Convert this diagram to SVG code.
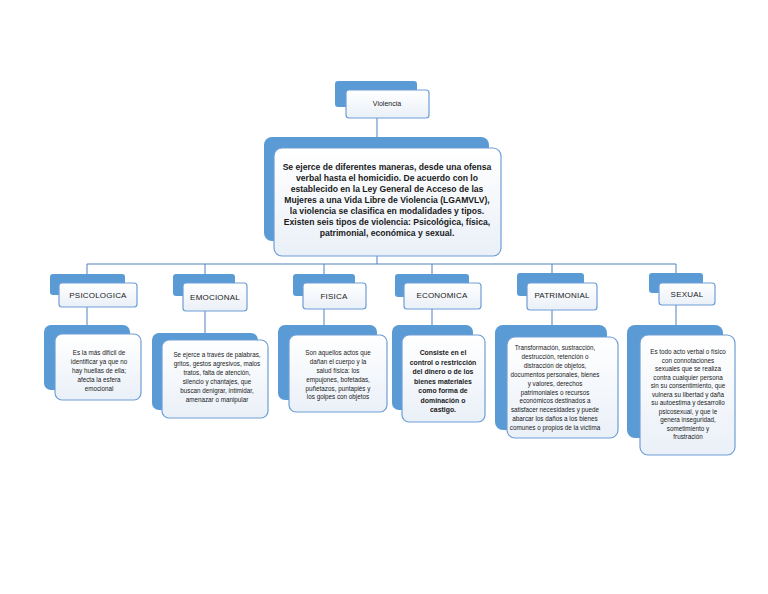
<svg xmlns="http://www.w3.org/2000/svg" width="768" height="594" viewBox="0 0 768 594">
<defs>
<linearGradient id="fg" x1="0" y1="0" x2="0" y2="1">
<stop offset="0" stop-color="#FFFFFF"/>
<stop offset="1" stop-color="#EAF0F8"/>
</linearGradient>
</defs>
<style>
.back{fill:#5B9BD5;}
.front{fill:url(#fg);stroke:#6E9ED6;stroke-width:1.2;}
.conn{stroke:#4F81BD;stroke-width:1;fill:none;}
text{font-family:"Liberation Sans",Arial,sans-serif;fill:#1a1a1a;text-anchor:middle;}
.cat{font-size:8px;letter-spacing:0.2px;}
.main{font-size:8.6px;font-weight:bold;}
.desc{font-size:6.3px;}
.descb{font-size:6.9px;font-weight:bold;}
</style>
<rect width="768" height="594" fill="#FFFFFF"/>
<g id="connectors">
<path class="conn" d="M377 118 V138"/>
<path class="conn" d="M377 256 V264"/>
<path class="conn" d="M87 264 H676"/>
<path class="conn" d="M87 264 V274 M205 264 V274 M324 264 V274 M432 264 V274 M552 264 V273 M676 264 V273"/>
<path class="conn" d="M87 307 V325 M205 311 V333 M324 309 V325 M432 309 V325 M552 310 V325 M676 305 V325"/>
</g>
<g id="violencia">
<rect class="back" x="335" y="81" width="82" height="26" rx="3"/>
<rect class="front" x="346" y="90" width="83" height="28" rx="3"/>
<text x="387" y="106" style="font-size:7px">Violencia</text>
</g>
<g id="definicion">
<rect class="back" x="264" y="137" width="225" height="104" rx="8"/>
<rect class="front" x="274" y="148" width="227" height="108" rx="8"/>
<text class="main" x="387" y="170">Se ejerce de diferentes maneras, desde una ofensa</text>
<text class="main" x="387" y="181">verbal hasta el homicidio. De acuerdo con lo</text>
<text class="main" x="387" y="192">establecido en la Ley General de Acceso de las</text>
<text class="main" x="387" y="203">Mujeres a una Vida Libre de Violencia (LGAMVLV),</text>
<text class="main" x="387" y="214">la violencia se clasifica en modalidades y tipos.</text>
<text class="main" x="387" y="225">Existen seis tipos de violencia: Psicológica, física,</text>
<text class="main" x="387" y="236">patrimonial, económica y sexual.</text>
</g>
<g id="psicologica">
<rect class="back" x="50" y="274" width="75" height="21" rx="3"/>
<rect class="front" x="59" y="283" width="78" height="24" rx="3"/>
<text class="cat" x="98" y="298">PSICOLOGICA</text>
</g>
<g id="emocional">
<rect class="back" x="173" y="274" width="62" height="22" rx="3"/>
<rect class="front" x="183" y="283" width="64" height="28" rx="3"/>
<text class="cat" x="215" y="300">EMOCIONAL</text>
</g>
<g id="fisica">
<rect class="back" x="293" y="274" width="62" height="22" rx="3"/>
<rect class="front" x="303" y="283" width="63" height="26" rx="3"/>
<text class="cat" x="334" y="299">FISICA</text>
</g>
<g id="economica">
<rect class="back" x="395" y="274" width="74" height="23" rx="3"/>
<rect class="front" x="404" y="283" width="77" height="26" rx="3"/>
<text class="cat" x="442" y="298">ECONOMICA</text>
</g>
<g id="patrimonial">
<rect class="back" x="517" y="273" width="67" height="23" rx="3"/>
<rect class="front" x="527" y="283" width="70" height="27" rx="3"/>
<text class="cat" x="562" y="298">PATRIMONIAL</text>
</g>
<g id="sexual">
<rect class="back" x="649" y="273" width="54" height="20" rx="3"/>
<rect class="front" x="659" y="283" width="56" height="22" rx="3"/>
<text class="cat" x="687" y="297">SEXUAL</text>
</g>
<g id="desc-psicologica">
<rect class="back" x="44" y="325" width="86" height="65" rx="7"/>
<rect class="front" x="55" y="334" width="86" height="66" rx="7"/>
<text class="desc" x="99" y="355">Es la más difícil de</text>
<text class="desc" x="99" y="364">identificar ya que no</text>
<text class="desc" x="99" y="373">hay huellas de ella;</text>
<text class="desc" x="99" y="382">afecta la esfera</text>
<text class="desc" x="99" y="391">emocional</text>
</g>
<g id="desc-emocional">
<rect class="back" x="152" y="333" width="106" height="77" rx="7"/>
<rect class="front" x="162" y="340" width="106" height="78" rx="7"/>
<text class="desc" x="217" y="357">Se ejerce a través de palabras,</text>
<text class="desc" x="217" y="366">gritos, gestos agresivos, malos</text>
<text class="desc" x="217" y="375">tratos, falta de atención,</text>
<text class="desc" x="217" y="384">silencio y chantajes, que</text>
<text class="desc" x="217" y="393">buscan denigrar, intimidar,</text>
<text class="desc" x="217" y="402">amenazar o manipular</text>
</g>
<g id="desc-fisica">
<rect class="back" x="278" y="325" width="99" height="75" rx="7"/>
<rect class="front" x="289" y="335" width="98" height="77" rx="7"/>
<text class="desc" x="338" y="355">Son aquellos actos que</text>
<text class="desc" x="338" y="364">dañan el cuerpo y la</text>
<text class="desc" x="338" y="373">salud física: los</text>
<text class="desc" x="338" y="382">empujones, bofetadas,</text>
<text class="desc" x="338" y="391">puñetazos, puntapiés y</text>
<text class="desc" x="338" y="399">los golpes con objetos</text>
</g>
<g id="desc-economica">
<rect class="back" x="392" y="325" width="81" height="85" rx="7"/>
<rect class="front" x="402" y="335" width="83" height="87" rx="7"/>
<text class="descb" x="443" y="355">Consiste en el</text>
<text class="descb" x="443" y="364.5">control o restricción</text>
<text class="descb" x="443" y="374">del dinero o de los</text>
<text class="descb" x="443" y="383.5">bienes materiales</text>
<text class="descb" x="443" y="393">como forma de</text>
<text class="descb" x="443" y="402.5">dominación o</text>
<text class="descb" x="443" y="412">castigo.</text>
</g>
<g id="desc-patrimonial">
<rect class="back" x="495" y="325" width="112" height="105" rx="8"/>
<rect class="front" x="507" y="337" width="111" height="101" rx="8"/>
<text class="desc" x="555" y="350">Transformación, sustracción,</text>
<text class="desc" x="555" y="359">destrucción, retención o</text>
<text class="desc" x="555" y="368">distracción de objetos,</text>
<text class="desc" x="555" y="377">documentos personales, bienes</text>
<text class="desc" x="555" y="386">y valores, derechos</text>
<text class="desc" x="555" y="394.5">patrimoniales o recursos</text>
<text class="desc" x="555" y="403">económicos destinados a</text>
<text class="desc" x="555" y="412">satisfacer necesidades y puede</text>
<text class="desc" x="555" y="421">abarcar los daños a los bienes</text>
<text class="desc" x="555" y="430">comunes o propios de la víctima</text>
</g>
<g id="desc-sexual">
<rect class="back" x="627" y="325" width="96" height="113" rx="8"/>
<rect class="front" x="640" y="335" width="95" height="120" rx="8"/>
<text class="desc" x="688" y="354">Es todo acto verbal o físico</text>
<text class="desc" x="688" y="362.5">con connotaciones</text>
<text class="desc" x="688" y="371">sexuales que se realiza</text>
<text class="desc" x="688" y="379.5">contra cualquier persona</text>
<text class="desc" x="688" y="388">sin su consentimiento, que</text>
<text class="desc" x="688" y="396.5">vulnera su libertad y daña</text>
<text class="desc" x="688" y="405">su autoestima y desarrollo</text>
<text class="desc" x="688" y="413.5">psicosexual, y que le</text>
<text class="desc" x="688" y="422">genera inseguridad,</text>
<text class="desc" x="688" y="430.5">sometimiento y</text>
<text class="desc" x="688" y="439">frustración</text>
</g>
</svg>
